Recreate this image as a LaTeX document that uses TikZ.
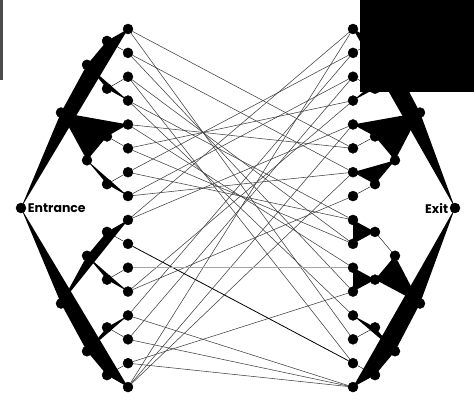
\documentclass[tikz,border=0pt]{standalone}
\usepackage{fontspec}
\newfontfamily\tagfont{Poppins}
\usepackage{tikz}

\begin{document}
\begin{tikzpicture}
[
x=1pt, y=-1pt,
point/.style = {draw, circle, fill = black, inner sep = 0pt, minimum size = 10pt},
link/.style = {draw = black!75, line width = 0.55pt},
tag/.style = {font = \tagfont\bfseries\fontsize{12.5}{12.5}\selectfont, inner sep = 1.5pt},
]

\useasboundingbox (0,0) rectangle (474,415);

\def\gap{23.87}

% leaves on both sides
\foreach \i in {0,...,15}
{
  \node (a\i) at (128, {29+\gap*\i}) [point] {};
  \node (b\i) at (353, {29+\gap*\i}) [point] {};
}

% inner levels of the two trees
\foreach \i in {0,...,7}
{
  \node (p3-\i) at (107, {29+\gap*(2*\i+0.5)}) [point] {};
  \node (q3-\i) at (375, {29+\gap*(2*\i+0.5)}) [point] {};
}
\foreach \i in {0,...,3}
{
  \node (p2-\i) at (87, {29+\gap*(4*\i+1.5)}) [point] {};
  \node (q2-\i) at (395, {29+\gap*(4*\i+1.5)}) [point] {};
}
\foreach \i in {0,1}
{
  \node (p1-\i) at (61, {29+\gap*(8*\i+3.5)}) [point] {};
  \node (q1-\i) at (420, {29+\gap*(8*\i+3.5)}) [point] {};
}

\node (En) at (21, 208) [point, label = {[tag]right:Entrance}] {};
\node (Ex) at (455, 208) [point, label = {[tag]left:Exit}] {};

% left flows
\fill (En.center) -- (p1-0.center) -- (p2-0.center) -- (p3-0.center) -- (a0.center) -- cycle;
\fill (p1-0.center) -- (p2-1.center) -- (p3-2.center) -- (a4.center) -- cycle;
\fill (p2-0.center) -- (p3-1.center) -- (a3.center) -- cycle;
\fill (p2-1.center) -- (p3-3.center) -- (a7.center) -- cycle;
\fill (En.center) -- (p1-1.center) -- (p2-3.center) -- (p3-7.center) -- (a15.center) -- cycle;
\fill (p1-1.center) -- (p2-2.center) -- (p3-4.center) -- (a8.center) -- cycle;
\fill (p2-2.center) -- (p3-5.center) -- (a11.center) -- cycle;
\fill (p2-3.center) -- (p3-6.center) -- (a12.center) -- cycle;

% right flows
\fill (Ex.center) -- (q1-0.center) -- (q2-0.center) -- (q3-0.center) -- (b0.center) -- cycle;
\fill (q1-0.center) -- (q2-1.center) -- (q3-2.center) -- (b4.center) -- cycle;
\fill (q2-0.center) -- (q3-1.center) -- (b3.center) -- cycle;
\fill (q2-1.center) -- (q3-3.center) -- (b6.center) -- cycle;
\fill (Ex.center) -- (q1-1.center) -- (q2-3.center) -- (q3-7.center) -- (b15.center) -- cycle;
\fill (q1-1.center) -- (q2-2.center) -- (q3-5.center) -- (b10.center) -- cycle;
\fill (b10.center) -- (q3-5.center) -- (b11.center) -- cycle;
\fill (b8.center) -- (q3-4.center) -- (b9.center) -- cycle;
\fill (q2-3.center) -- (q3-6.center) -- (b12.center) -- cycle;

% thin tree edges
\draw (p3-0) -- (a1);
\draw (p3-1) -- (a2);
\draw (p3-2) -- (a5);
\draw (p3-3) -- (a6);
\draw (p3-4) -- (a9);
\draw (p3-5) -- (a10);
\draw (p3-6) -- (a13);
\draw (p3-7) -- (a14);
\draw (q3-0) -- (b1);
\draw (q3-1) -- (b2);
\draw (q3-2) -- (b5);
\draw (q3-3) -- (b7);
\draw (q2-2) -- (q3-4);
\draw (q3-6) -- (b13);
\draw (q3-7) -- (b14);

% crossing links
\foreach \s/\t in {0/5, 0/13, 1/6, 1/11, 2/9, 2/14, 3/8, 3/12, 4/5, 4/10,
                   5/3, 5/9, 6/1, 6/8, 7/2, 7/6, 8/0, 8/4,
                   11/3, 11/7, 12/1, 12/15, 13/15, 13/2, 14/15, 14/11, 15/0, 15/4, 15/6}
  \draw [link] (a\s) -- (b\t);
\draw [black, line width = 0.8pt] (a9) -- (b14);
\draw [black!35, line width = 0.6pt] (a10) -- (b10);

% cover blocks
\fill [black!70] (0,0) rectangle (3,80);
\fill (360,0) rectangle (474,92);
\end{tikzpicture}
\end{document}
